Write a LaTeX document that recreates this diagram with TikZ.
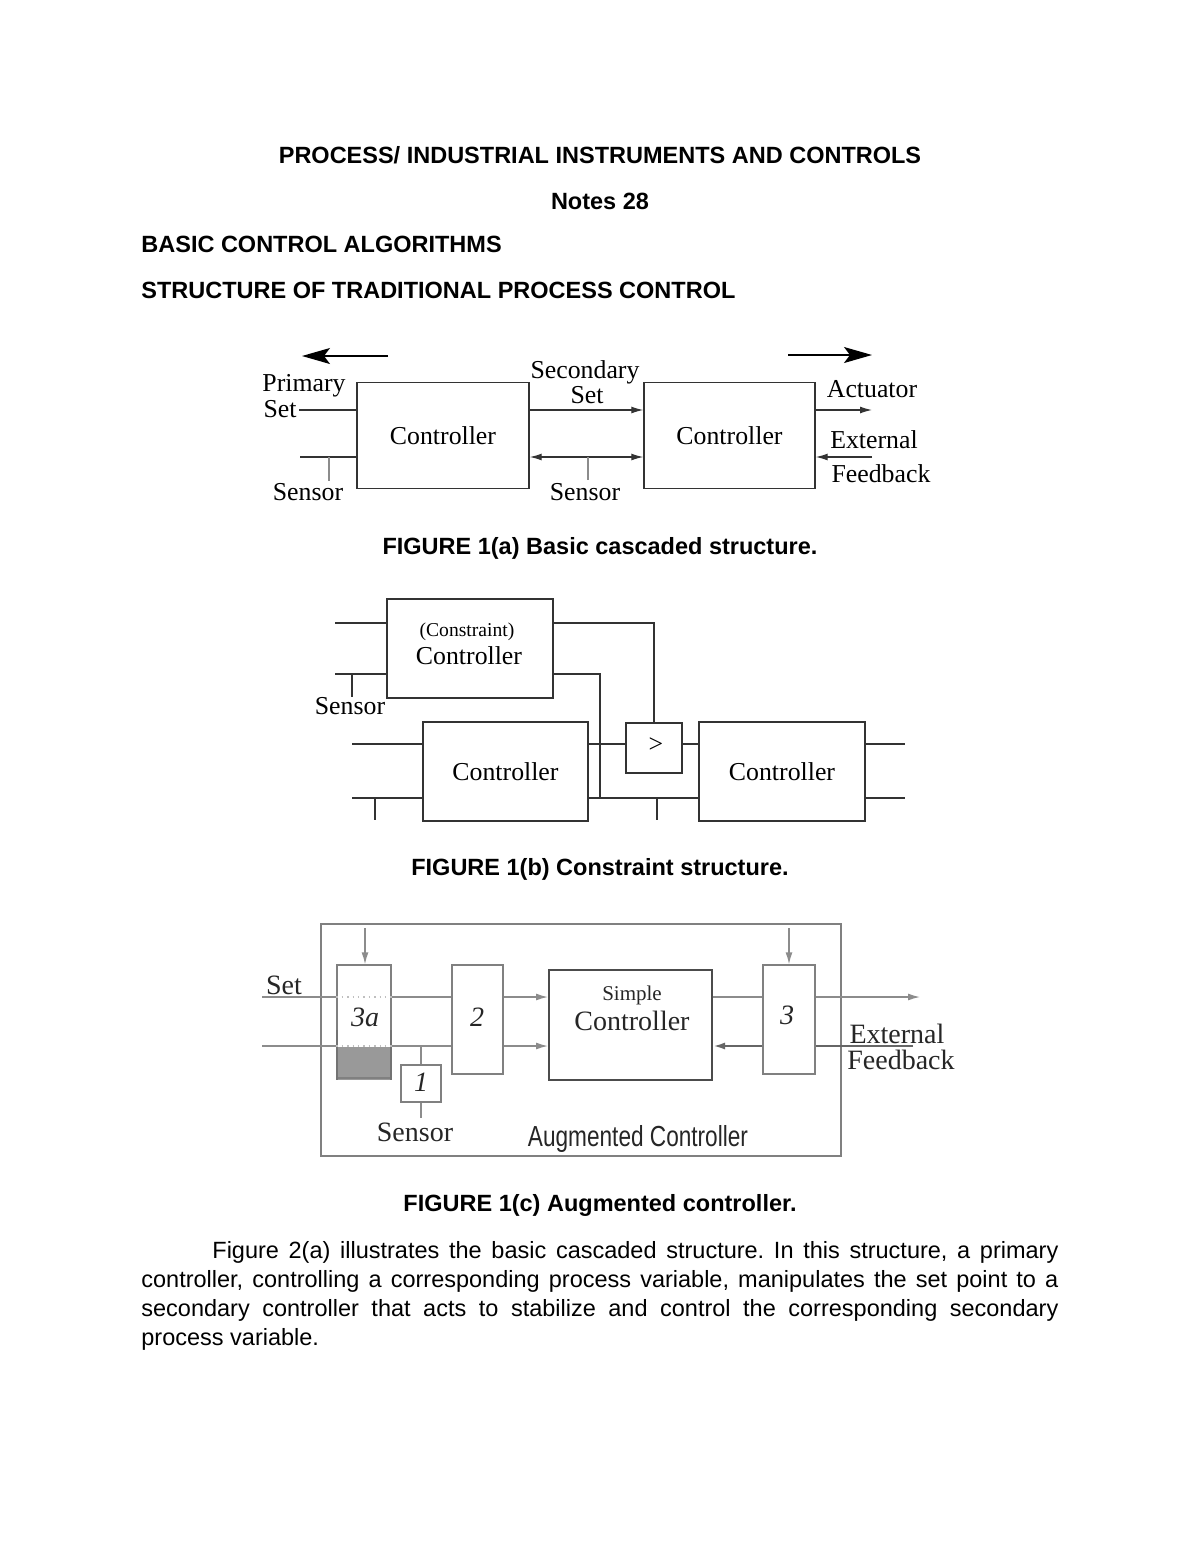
\documentclass[tikz,border=0pt]{standalone}
\usepackage{fontspec}
\setmainfont{Liberation Sans}
\newfontfamily\tms{Liberation Serif}
\usetikzlibrary{arrows.meta}
\frenchspacing
\tikzset{
  ln/.style={draw=black!80, line width=0.6pt},
  sa/.style={ln, -{Latex[length=6pt,width=3.5pt]}},
  dsa/.style={ln, {Latex[length=6pt,width=3.5pt]}-{Latex[length=6pt,width=3.5pt]}},
  bigarr/.style={draw=black, line width=0.7pt, -{Stealth[length=14pt,width=8pt,inset=3pt]}},
  boxa/.style={draw=black!80, line width=0.7pt, rectangle, inner sep=0pt},
  tm/.style={font=\tms\fontsize{12.9}{14}\selectfont, inner sep=1pt},
  tmc/.style={font=\tms\fontsize{14}{15}\selectfont, inner sep=1pt, text=black!85},
  tmci/.style={font=\tms\itshape\fontsize{14}{15}\selectfont, inner sep=1pt, text=black!85},
  gl/.style={draw=black!45, line width=0.7pt},
  gsa/.style={gl, -{Latex[length=6pt,width=3.5pt]}},
  gbox/.style={draw=black!50, line width=0.7pt, rectangle, inner sep=0pt},
  hd/.style={font=\bfseries\fontsize{11.75}{14}\selectfont, inner sep=0pt},
  para/.style={anchor=north west, text width=458.5pt, align=justify, inner sep=0pt,
    font=\fontsize{11.75}{14.5}\selectfont}
}
\begin{document}
\begin{tikzpicture}[x=0.5pt,y=-0.5pt]
\useasboundingbox (0,0) rectangle (1200,1553);
\fill[white] (0,0) rectangle (1200,1553);

% ---------- headings ----------
\node[hd] (h1) at (600,155) {PROCESS/ INDUSTRIAL INSTRUMENTS AND CONTROLS};
\node[hd] (h2) at (600,201) {Notes 28};
\node[hd, anchor=west] (h3) at (141,244) {BASIC CONTROL ALGORITHMS};
\node[hd, anchor=west] (h4) at (141,290) {STRUCTURE OF TRADITIONAL PROCESS CONTROL};

% ---------- Figure 1(a) ----------
\node[boxa, tm, minimum width=86pt, minimum height=53pt] (c1) at (443,435.5) {Controller};
\node[boxa, tm, minimum width=85.5pt, minimum height=53pt] (c2) at (729.5,435.5) {Controller};

\coordinate (la1) at (388,356);
\coordinate (la2) at (302,356);
\draw[bigarr] (la1) -- (la2);
\coordinate (ra1) at (788,355);
\coordinate (ra2) at (872,355);
\draw[bigarr] (ra1) -- (ra2);

\node[tm] (prim) at (304,386) {Primary};
\node[tm] (pset) at (280,409) {Set};
\coordinate (ps) at (299,410);
\draw[ln] (ps) -- (ps -| c1.west);
\coordinate (s1) at (300,457);
\draw[ln] (s1) -- (s1 -| c1.west);
\coordinate (t1a) at (329,457);
\coordinate (t1b) at (329,481);
\draw[ln, draw=black!45] (t1a) -- (t1b);
\node[tm] (sens1) at (308,492) {Sensor};

\node[tm] (sec) at (585,372) {Secondary};
\node[tm] (sset) at (587,395) {Set};
\coordinate (a1) at (c1.east |- ps);
\draw[sa] (a1) -- (a1 -| c2.west);
\coordinate (a2) at (c1.east |- s1);
\draw[dsa] (a2) -- (a2 -| c2.west);
\coordinate (t2a) at (588,457);
\coordinate (t2b) at (588,480);
\draw[ln, draw=black!45] (t2a) -- (t2b);
\node[tm] (sens2) at (585,492) {Sensor};

\coordinate (act) at (872,410);
\draw[sa] (act -| c2.east) -- (act);
\node[tm] (actl) at (872,389) {Actuator};
\coordinate (fb) at (872,457);
\draw[sa] (fb) -- (fb -| c2.east);
\node[tm] (ext1) at (874,440) {External};
\node[tm] (fdb1) at (881,474) {Feedback};

\node[hd] (cap1) at (600,548) {FIGURE 1(a) Basic cascaded structure.};

% ---------- Figure 1(b) ----------
\node[boxa, minimum width=83pt, minimum height=49.5pt] (cc) at (470,648.5) {};
\node[tm, font=\tms\fontsize{9.8}{11}\selectfont] (cct) at (467,632) {(Constraint)};
\node[tm] (ccl) at (469,656) {Controller};
\node[boxa, tm, minimum width=82.5pt, minimum height=49.5pt] (lc) at (505.5,771.5) {Controller};
\node[boxa, minimum width=28pt, minimum height=25pt] (gt) at (654,748) {};
\node[tm] (gtl) at (656,745) {>};
\node[boxa, tm, minimum width=83pt, minimum height=49.5pt] (rc) at (782,771.5) {Controller};

\coordinate (ci1) at (335,623);
\draw[ln] (ci1) -- (ci1 -| cc.west);
\coordinate (ci2) at (335,674);
\draw[ln] (ci2) -- (ci2 -| cc.west);
\coordinate (t3a) at (352,674);
\coordinate (t3b) at (352,697);
\draw[ln] (t3a) -- (t3b);
\node[tm] (sens3) at (350,706) {Sensor};

\coordinate (co1) at (cc.east |- ci1);
\draw[ln] (co1) -| (gt.north);
\coordinate (co2) at (cc.east |- ci2);
\coordinate (vb) at (600,798);
\draw[ln] (co2) -| (vb);

\coordinate (li1) at (352,744);
\draw[ln] (li1) -- (li1 -| lc.west);
\coordinate (li2) at (352,798);
\draw[ln] (li2) -- (li2 -| lc.west);
\coordinate (t4a) at (375,798);
\coordinate (t4b) at (375,820);
\draw[ln] (t4a) -- (t4b);

\coordinate (lo1) at (lc.east |- li1);
\draw[ln] (lo1) -- (lo1 -| gt.west);
\coordinate (go1) at (gt.east |- li1);
\draw[ln] (go1) -- (go1 -| rc.west);
\coordinate (lo2) at (lc.east |- li2);
\draw[ln] (lo2) -- (lo2 -| rc.west);
\coordinate (t5a) at (657,798);
\coordinate (t5b) at (657,820);
\draw[ln] (t5a) -- (t5b);

\coordinate (ro1) at (905,744);
\draw[ln] (ro1 -| rc.east) -- (ro1);
\coordinate (ro2) at (905,798);
\draw[ln] (ro2 -| rc.east) -- (ro2);

\node[hd] (cap2) at (600,869) {FIGURE 1(b) Constraint structure.};

% ---------- Figure 1(c) ----------
\node[gbox, minimum width=260pt, minimum height=116pt] (outer) at (581,1040) {};
\fill[black!40] (337,1047) rectangle (391,1080);
\node[gbox, minimum width=27pt, minimum height=56.5pt] (b3a) at (364,1021.5) {};
\draw[black!55, line width=1.2pt] (337,1030) -- (337,1080) (391,1030) -- (391,1080);
\node[gbox, minimum width=20pt, minimum height=18.5pt] (b1) at (421,1083.5) {};
\node[gbox, minimum width=25.5pt, minimum height=54.5pt] (b2) at (477.5,1019.5) {};
\node[draw=black!70, line width=1pt, rectangle, inner sep=0pt, minimum width=81.5pt, minimum height=55pt] (sc) at (630.5,1025) {};
\node[gbox, minimum width=26pt, minimum height=54.5pt] (b3) at (789,1019.5) {};

\node[tmci] (l3a) at (365,1017) {3a};
\node[tmci] (l2) at (477,1017) {2};
\node[tmci] (l1) at (421,1082) {1};
\node[tmci] (l3) at (787,1015) {3};
\node[tmc, font=\tms\fontsize{10.5}{12}\selectfont] (simp) at (632,995) {Simple};
\node[tmc] (scl) at (632,1021) {Controller};

\node[tmc] (setc) at (284,985) {Set};
\coordinate (sl1) at (262,997);
\draw[gl] (sl1) -- (sl1 -| b3a.west);
\draw[gl, draw=black!25, dotted] (sl1 -| b3a.west) -- (sl1 -| b3a.east);
\draw[gl] (sl1 -| b3a.east) -- (sl1 -| b2.west);
\coordinate (sl2) at (262,1046);
\draw[gl] (sl2) -- (sl2 -| b3a.west);
\draw[gl, draw=black!25, dotted] (sl2 -| b3a.west) -- (sl2 -| b3a.east);
\draw[gl] (sl2 -| b3a.east) -- (sl2 -| b2.west);

\coordinate (j1) at (421,1046);
\draw[gl] (j1) -- (b1.north);
\coordinate (j1b) at (421,1118);
\draw[gl] (b1.south) -- (j1b);
\node[tmc] (sens4) at (415,1132) {Sensor};

\coordinate (q1) at (b2.east |- sl1);
\draw[gsa] (q1) -- (q1 -| sc.west);
\coordinate (q2) at (b2.east |- sl2);
\draw[gsa] (q2) -- (q2 -| sc.west);

\coordinate (q3) at (sc.east |- sl1);
\draw[gl] (q3) -- (q3 -| b3.west);
\coordinate (outc) at (920,997);
\draw[gsa] (outc -| b3.east) -- (outc);

\coordinate (fbc) at (913,1046);
\draw[gl, draw=black!60, line width=1.1pt] (fbc) -- (fbc -| b3.east);
\coordinate (q4) at (b3.west |- fbc);
\draw[gsa, draw=black!60, line width=1.1pt] (q4) -- (q4 -| sc.east);

\coordinate (in3a) at (365,928);
\draw[gsa] (in3a) -- (in3a |- b3a.north);
\coordinate (in3) at (789,928);
\draw[gsa] (in3) -- (b3.north);

\node[tmc] (ext2) at (897,1034) {External};
\node[tmc] (fdb2) at (901,1060) {Feedback};
\node[inner sep=0pt, text=black!85] (aug) at (638,1139) {\scalebox{0.78}[1]{\fontsize{14.5}{16}\selectfont Augmented Controller}};

\node[hd] (cap3) at (600,1205) {FIGURE 1(c) Augmented controller.};

% ---------- paragraph ----------
\node[para] (body) at (141,1241) {\hspace*{35.5pt}Figure 2(a) illustrates the basic cascaded structure. In this structure, a primary\linebreak controller, controlling a corresponding process variable, manipulates the set point to a\linebreak secondary controller that acts to stabilize and control the corresponding secondary\linebreak process variable.};
\end{tikzpicture}
\end{document}
